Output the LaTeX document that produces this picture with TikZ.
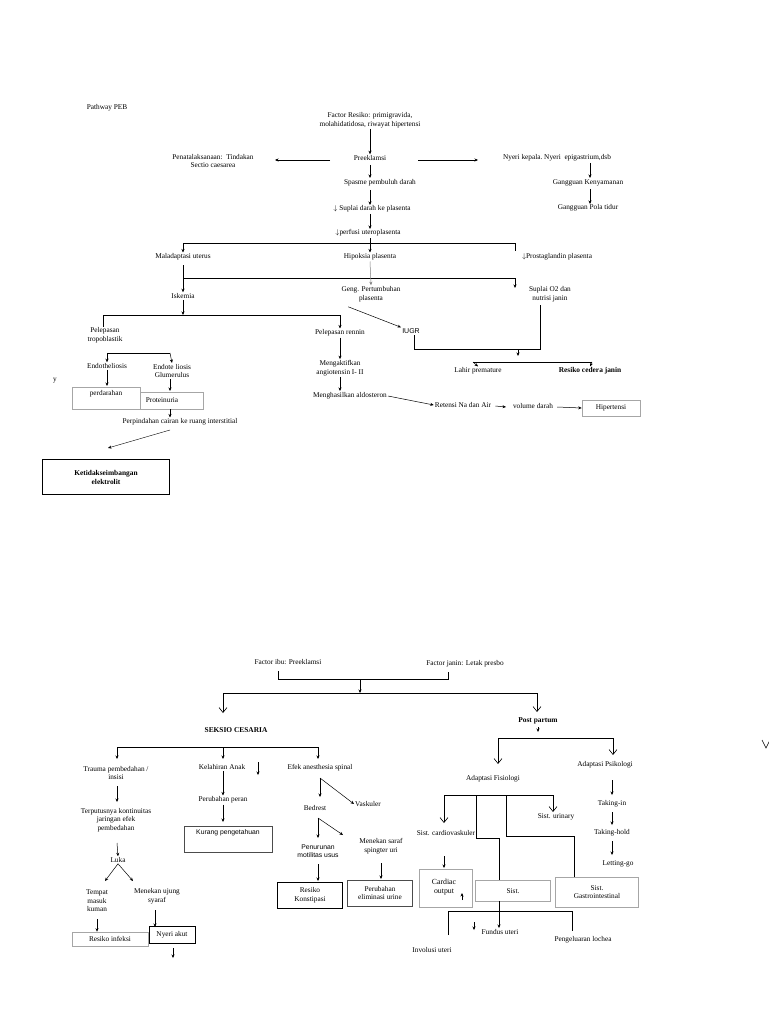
\documentclass[tikz,border=0pt]{standalone}
\usepackage{fontspec}
\setmainfont{Liberation Serif}
\newfontfamily\sansf{Liberation Sans}
\usetikzlibrary{arrows.meta}
\begin{document}
\begin{tikzpicture}[x=1pt,y=-1pt,
  t/.style={font=\fontsize{7.3}{8.6}\selectfont,align=center,inner sep=1pt},
  b/.style={t,font=\fontsize{7.4}{9}\selectfont\bfseries},
  a/.style={-{Stealth[length=3.5pt,width=3pt]},line width=0.5pt},
  o/.style={-{Straight Barb[length=5pt,width=8pt]},line width=0.6pt},
  l/.style={line width=0.6pt},
  gbox/.style={draw=gray!70,line width=0.6pt},
  kbox/.style={draw=black,line width=0.6pt}]
\useasboundingbox (0,0) rectangle (768,1024);
\fill[white] (0,0) rectangle (768,1024);
% ---------- TOP ----------
\node[t] (pw) at (107,108) {Pathway PEB};
\node[t] (fr) at (370,120) {Factor Resiko: primigravida,\\molahidatidosa, riwayat hipertensi};
\node[t] (pe) at (370,158) {Preeklamsi};
\node[t] (pen) at (213,161) {Penatalaksanaan:\ \ Tindakan\\Sectio caesarea};
\node[t] (ny) at (557,158) {Nyeri kepala.\ Nyeri\ \ epigastrium,dsb};
\node[t] (sp) at (380,183) {Spasme pembuluh darah};
\node[t] (gk) at (588,183) {Gangguan Kenyamanan};
\node[t] (gp) at (588,208) {Gangguan Pola tidur};
\node[t] (sd) at (372,209) {$\downarrow$ Suplai darah ke plasenta};
\node[t] (pu) at (368,233) {$\downarrow$perfusi uteroplasenta};
\node[t] (mu) at (183,257) {Maladaptasi uterus};
\node[t] (hp) at (370,257) {Hipoksia plasenta};
\node[t] (pg) at (557,257) {$\downarrow$Prostaglandin plasenta};
\node[t] (is) at (183,296) {Iskemia};
\node[t] (gpp) at (371,294) {Geng. Pertumbuhan\\plasenta};
\node[t] (so) at (550,294) {Suplai O2 dan\\nutrisi janin};
\node[t,font=\fontsize{7}{8}\sansf] (iu) at (411,331) {IUGR};
\node[t] (ptr) at (105,335) {Pelepasan\\tropoblastik};
\node[t] (prn) at (340,333) {Pelepasan rennin};
\node[t] (lp) at (478,371) {Lahir premature};
\node[b] (rc) at (590,371) {Resiko cedera janin};
\node[t] (en) at (107,366) {Endotheliosis};
\node[t] (eg) at (172,371) {Endote liosis\\Glumerulus};
\node[t] (yy) at (55,381) {y};
\node[t,kbox,draw=gray!70,minimum width=68pt,minimum height=22pt,anchor=north west,align=center] (pd) at (72,387) {};
\node[t] at (106,394) {perdarahan};
\node[t,gbox,minimum width=63pt,minimum height=17pt,anchor=north west] (pr) at (140,392) {};
\node[t] at (162,400) {Proteinuria};
\node[t] (pc) at (180,422) {Perpindahan cairan ke ruang interstitial};
\node[b,draw=black,line width=1.3pt,minimum width=127pt,minimum height=35pt] (ke) at (106,477) {Ketidakseimbangan\\elektrolit};
\node[t] (ma) at (340,368) {Mengaktifkan\\angiotensin I- II};
\node[t] (ha) at (350,396) {Menghasilkan aldosteron};
\node[t] (rn) at (463,405) {Retensi Na dan Air};
\node[t] (vd) at (533,406) {volume darah};
\node[t,gbox,minimum width=58pt,minimum height=16pt] (hi) at (611,408) {Hipertensi};
% top connectors
\draw[a] (fr.south) -- (pe.north);
\draw[a] (330,160) -- (275,160);
\draw[a] (418,160) -- (478,160);
\draw[a] (370,165) -- (370,178);
\draw[a] (590,163) -- (590,178);
\draw[a] (590,189) -- (590,204);
\draw[a] (370,190) -- (370,205);
\draw[a] (370,214) -- (370,229);
\draw[l] (183,243) -- (515,243);
\draw[a] (183,243) -- (mu.north);
\draw[a] (370,238) -- (hp.north);
\draw[l] (515,243) -- (515,251);
\draw[l] (183,278) -- (515,278);
\draw[a] (183,265) -- (is.north);
\draw[a] (515,278) -- (515,288);
\draw[a,gray] (hp.south) -- (gpp.north);
\draw[a] (gpp.south west)++(8,4) -- (iu.north west);
\draw[a] (is.south) -- (183,315);
\draw[l] (103,315) -- (340,315);
\draw[l] (103,315) -- (103,327);
\draw[a] (340,315) -- (prn.north);
\draw[l] (540,305) -- (540,349) -- (414,349) -- (iu.south-|414,0);
\draw[a] (518,349) -- (518,356);
\draw[l] (473,362) -- (592,362);
\draw[a] (473,362) -- (lp.north);
\draw[a] (592,362) -- (rc.north);
\draw[l] (107,353) -- (170,353);
\draw[a] (107,353) -- (en.north);
\draw[a] (170,353) -- (eg.north);
\draw[a] (en.south) -- (107,386);
\draw[a] (eg.south-|170,0) -- (170,391);
\draw[a] (170,409) -- (pc.north-|170,0);
\draw[a,line width=0.4pt] (170,430) -- (108,448);
\draw[a] (prn.south) -- (ma.north);
\draw[a] (ma.south) -- (340,391);
\draw[a] (ha.east) -- (rn.west);
\draw[a] (rn.east) ++(3,1) -- (506,407);
\draw[a] (vd.east) ++(3,1) -- (hi.west);
% ---------- BOTTOM ----------
\node[t] (fi) at (288,662) {Factor ibu: Preeklamsi};
\node[t] (fj) at (465,664) {Factor janin: Letak presbo};
\node[b] (sc) at (236,730) {SEKSIO CESARIA};
\node[b] (pp) at (538,721) {Post partum};
\draw[l] (278,671) -- (278,679) -- (448,679) -- (448,672);
\draw[a] (360,679) -- (360,693);
\draw[l] (223,693) -- (537,693);
\draw[o] (223,693) -- (223,713);
\draw[o] (537,693) -- (537,712);
\draw[l] (117,747) -- (318,747);
\node[t] (tr) at (116,773) {Trauma pembedahan /\\insisi};
\node[t] (ka) at (222,767) {Kelahiran Anak};
\node[t] (ef) at (320,768) {Efek anesthesia spinal};
\draw[a] (117,747) -- (117,759);
\draw[a] (223,747) -- (223,759);
\draw[a] (318,747) -- (318,759);
\draw[a] (258,762) -- (258,775);
\node[t] (tk) at (116,820) {Terputusnya kontinuitas\\jaringan efek\\pembedahan};
\draw[a] (117,786) -- (117,802);
\node[t] (lu) at (118,860) {Luka};
\draw[a] (117,843) -- (lu.north);
\node[t] (tm) at (97,901) {Tempat\\masuk\\kuman};
\node[t] (mj) at (157,896) {Menekan ujung\\syaraf};
\draw[a] (lu.south) -- (105,881);
\draw[a] (lu.south) -- (133,881);
\node[t,gbox,minimum width=76pt,minimum height=14pt] (ri) at (110,939) {Resiko infeksi};
\node[t,kbox,minimum width=46pt,minimum height=17pt] (na) at (172,935) {Nyeri akut};
\draw[a] (97,919) -- (ri.north-|97,0);
\draw[a] (155,910) -- (155,927);
\draw[a] (173,948) -- (173,958);
\node[t] (ppe) at (223,800) {Perubahan peran};
\draw[a] (ka.south-|223,0) -- (ppe.north);
\node[t,kbox,draw=gray!60!black,minimum width=88pt,minimum height=26pt,anchor=north west] (kp) at (184,826) {};
\node[t,font=\fontsize{6.8}{8}\sansf] at (228,833) {Kurang pengetahuan};
\draw[a] (ppe.south) -- (223,822);
\node[t] (bd) at (315,808) {Bedrest};
\node[t] (vk) at (368,804) {Vaskuler};
\draw[a] (320,778) -- (320,797);
\draw[a] (320,778) -- (vk.west);
\node[t,font=\fontsize{6.8}{8.6}\sansf,align=center] (pm) at (318,851) {Penurunan\\motilitas usus};
\node[t] (ms) at (381,846) {Menekan saraf\\spingter uri};
\draw[a] (318,818) -- (318,838);
\draw[a] (318,818) -- (343,835);
\node[t,kbox,minimum width=65pt,minimum height=26pt] (rk) at (310,895) {Resiko\\Konstipasi};
\node[t,kbox,draw=gray!60!black,minimum width=65pt,minimum height=26pt] (pel) at (380,893) {Perubahan\\eliminasi urine};
\draw[a] (318,864) -- (318,881);
\draw[a] (381,863) -- (381,879);
% post partum right
\draw[a] (538,727) -- (538,732);
\draw[l] (498,738) -- (613,738);
\draw[o] (498,738) -- (498,764);
\draw[o] (613,738) -- (613,755);
\node[t] (af) at (493,779) {Adaptasi Fisiologi};
\node[t] (aps) at (605,765) {Adaptasi Psikologi};
\node[t] (ti) at (612,804) {Taking-in};
\node[t] (th) at (612,833) {Taking-hold};
\node[t] (lg) at (618,864) {Letting-go};
\draw[a] (612,780) -- (612,795);
\draw[a] (612,812) -- (612,825);
\draw[a] (612,841) -- (612,855);
\draw[l] (444,795) -- (553,795);
\draw[o] (444,795) -- (444,823);
\draw[o] (553,795) -- (553,812);
\node[t] (scv) at (446,833) {Sist. cardiovaskuler};
\node[t] (su) at (556,817) {Sist. urinary};
\draw[l] (476,795) -- (476,838) -- (499,838) -- (499,881);
\draw[l] (506,795) -- (506,836) -- (574,836) -- (574,877);
\node[t,gbox,minimum width=53pt,minimum height=38pt,anchor=north west] (co) at (419,869) {};
\node[t,font=\fontsize{7.8}{9.5}\selectfont] at (444,887) {Cardiac\\output};
\draw[a] (462,900) -- (462,893);
\draw[a] (444,856) -- (444,868);
\node[t,gbox,minimum width=75pt,minimum height=21pt] (ss) at (513,891) {Sist.};
\node[t,gbox,minimum width=83pt,minimum height=30pt] (sg) at (597,892) {Sist.\\Gastrointestinal};
\draw[l] (448,935) -- (448,911) -- (572,911) -- (572,931);
\draw[a] (499,901) -- (499,928);
\draw[a] (474,922) -- (474,930);
\node[t] (iv) at (432,950) {Involusi uteri};
\node[t] (fu) at (500,932) {Fundus uteri};
\node[t] (pl) at (583,940) {Pengeluaran lochea};
\draw[l] (762,740) -- (766,748) -- (770,740);
\end{tikzpicture}
\end{document}
